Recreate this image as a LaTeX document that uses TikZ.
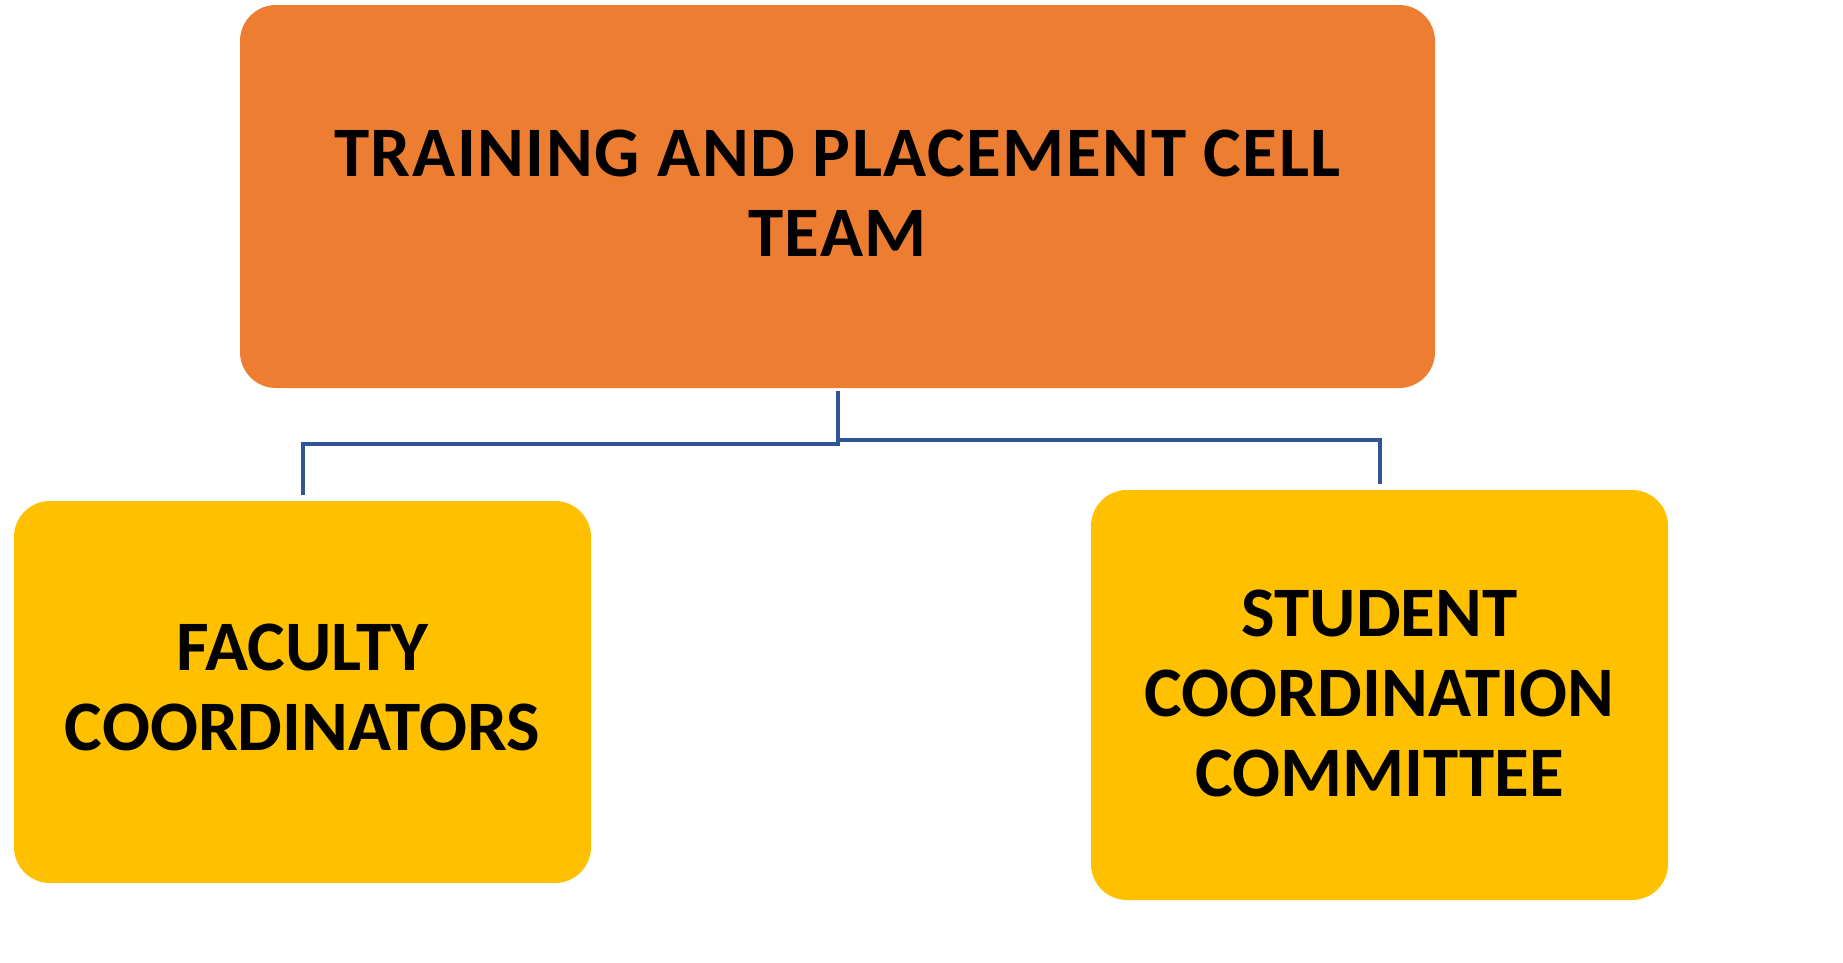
\documentclass[tikz,border=0pt]{standalone}
\usepackage{fontspec}
\setmainfont{Carlito}
\definecolor{topfill}{RGB}{237,125,49}
\definecolor{childfill}{RGB}{255,192,0}
\definecolor{connblue}{RGB}{47,85,151}
\begin{document}
\begin{tikzpicture}[x=1pt,y=-1pt,
  box/.style={rounded corners=36pt, inner sep=0pt, align=center,
    font=\bfseries\fontsize{71}{80}\selectfont, text=black},
  conn/.style={draw=connblue, line width=4pt}]
\useasboundingbox (0,0) rectangle (1843,962);
\node[box, fill=topfill, minimum width=1195pt, minimum height=383pt,
  font=\bfseries\fontsize{71}{80}\selectfont\addfontfeature{LetterSpace=2.2}] (top) at (837.5,196.5)
  {TRAINING AND PLACEMENT CELL\\TEAM\rule[-7pt]{0pt}{7pt}};
\node[box, fill=childfill, minimum width=577pt, minimum height=382pt] (left) at (302.5,692)
  {FACULTY\\COORDINATORS\rule[-9pt]{0pt}{9pt}};
\node[box, fill=childfill, minimum width=577pt, minimum height=410pt] (right) at (1379.5,695)
  {STUDENT\\COORDINATION\\COMMITTEE\rule[-4pt]{0pt}{4pt}};
\draw[conn] ([yshift=-3pt]top.south) |- ([yshift=57pt]left.north) -- ([yshift=6pt]left.north);
\draw[conn] ([yshift=-52pt]top.south) -| ([yshift=6pt]right.north);
\end{tikzpicture}
\end{document}
